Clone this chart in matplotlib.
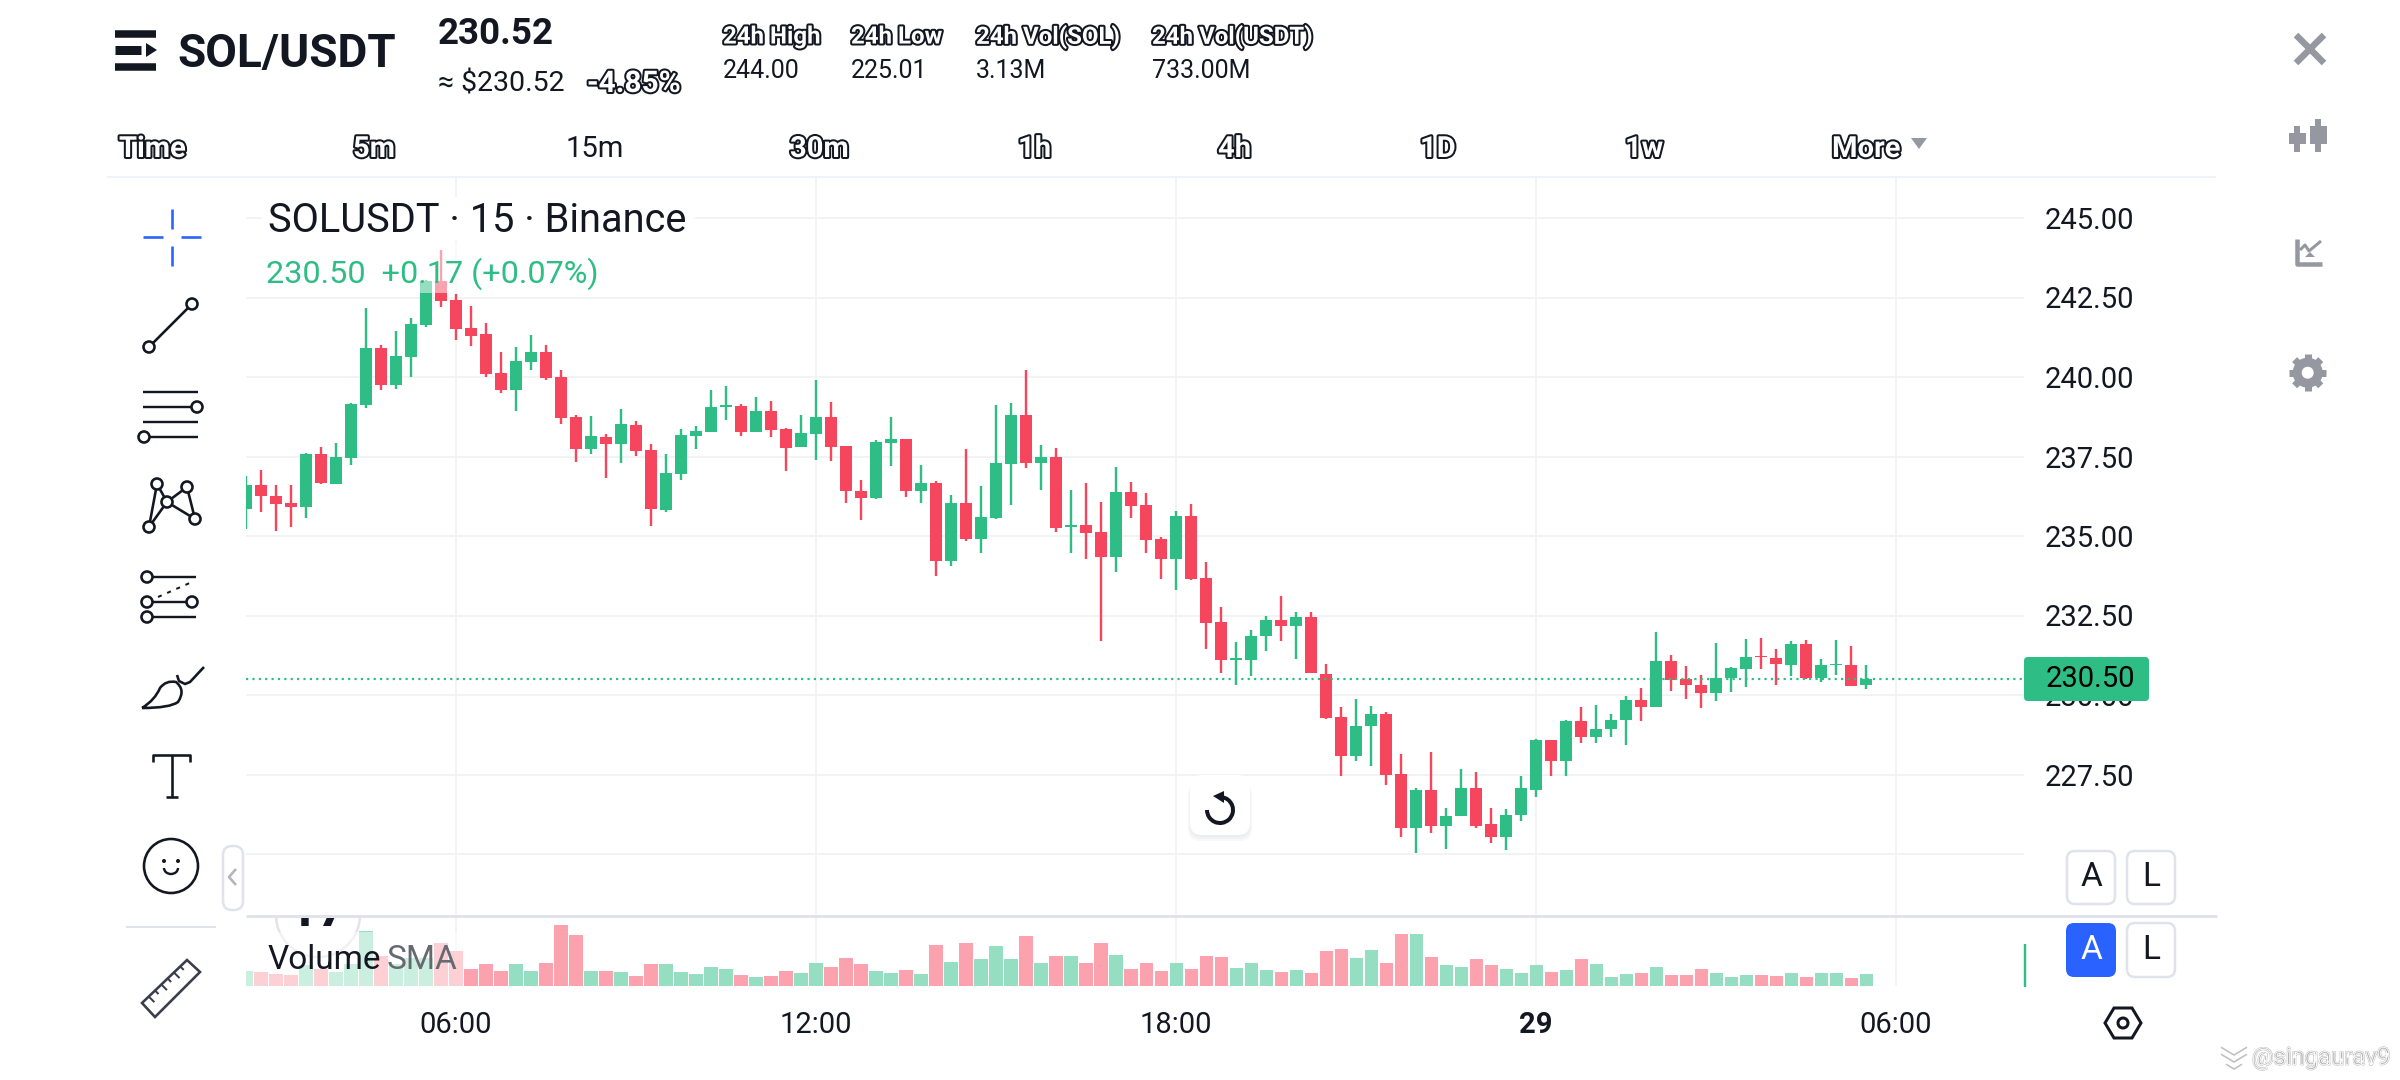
import numpy as np
import matplotlib
matplotlib.use("Agg")
import matplotlib.pyplot as plt
from matplotlib.patches import Rectangle, FancyBboxPatch, Circle, Polygon, Arc, PathPatch
from matplotlib.path import Path
import matplotlib.patheffects as pe

plt.rcParams['font.family'] = ['Roboto', 'DejaVu Sans']

# ---------------- data (15 minute candles, SOLUSDT) ----------------
opens = [235.86,236.60,236.25,236.03,235.92,237.58,236.64,237.46,239.13,240.91,239.75,240.63,241.64,243.01,242.42,241.54,241.35,240.12,239.60,240.48,
240.78,240.00,238.74,237.74,238.11,237.90,238.49,237.70,235.83,236.96,238.15,238.28,239.06,239.08,238.28,238.93,238.36,237.80,238.21,238.74,
237.83,236.41,236.20,237.93,238.05,236.42,236.66,234.22,236.03,234.91,235.57,237.27,238.80,237.30,237.48,235.29,235.34,235.12,234.35,236.38,
235.97,234.90,234.28,235.62,233.67,232.29,231.11,231.11,231.86,232.35,232.18,232.45,230.66,229.31,228.07,229.01,229.41,227.53,225.81,227.02,
225.87,226.19,227.09,225.93,225.53,226.22,227.02,228.59,227.94,229.19,228.67,228.92,229.20,229.85,229.61,231.07,230.51,230.32,230.05,230.52,
230.83,231.23,231.17,230.93,231.61,230.55,230.93,230.95,230.30]
closes = [236.60,236.27,236.01,235.92,237.58,236.67,237.48,239.15,240.91,239.75,240.66,241.66,243.01,242.40,241.51,241.30,240.10,239.60,240.50,240.78,
239.96,238.72,237.74,238.14,237.90,238.52,237.68,235.86,236.98,238.17,238.30,239.05,239.11,238.28,238.93,238.34,237.77,238.23,238.74,237.80,
236.42,236.20,237.95,238.05,236.42,236.66,234.22,236.03,234.91,235.59,237.29,238.80,237.30,237.48,235.26,235.34,235.10,234.35,236.38,235.95,
234.88,234.28,235.62,233.66,232.27,231.11,231.16,231.85,232.35,232.18,232.45,230.70,229.29,228.07,229.03,229.41,227.50,225.81,227.02,225.87,
226.21,227.09,225.87,225.53,226.24,227.06,228.59,227.94,229.19,228.67,228.94,229.22,229.85,229.61,231.07,230.46,230.30,230.05,230.54,230.85,
231.20,231.18,230.96,231.61,230.55,230.95,230.98,230.27,230.50]
highs = [236.88,237.07,236.60,236.60,237.60,237.79,237.92,239.17,242.17,241.00,241.44,241.85,243.05,244.00,242.60,242.23,241.69,240.78,240.94,241.32,
241.00,240.22,238.80,238.77,238.20,238.99,238.61,237.89,237.58,238.36,238.46,239.59,239.71,239.15,239.37,239.24,238.39,238.80,239.90,239.21,
237.83,236.76,238.01,238.74,238.05,237.23,236.72,236.29,237.73,236.57,239.11,239.18,240.21,237.86,237.76,236.44,236.66,236.06,237.17,236.69,
236.35,234.96,235.78,236.00,234.18,232.76,231.66,232.04,232.48,233.11,232.61,232.61,230.98,229.63,229.88,229.66,229.47,228.15,227.06,228.22,
226.46,227.68,227.59,226.46,226.43,227.46,228.62,228.59,229.22,229.63,229.69,229.41,229.97,230.22,231.98,231.26,230.92,230.63,231.64,230.88,
231.76,231.79,231.45,231.70,231.73,231.13,231.73,231.54,230.95]
lows = [235.23,235.76,235.16,235.29,235.57,236.64,236.64,237.23,239.03,239.60,239.63,240.00,241.58,242.21,241.17,240.98,240.00,239.50,238.94,240.23,
239.91,238.53,237.33,237.59,236.83,237.30,237.52,235.32,235.76,236.77,237.74,238.28,238.65,238.15,238.28,238.12,237.05,237.80,237.40,237.37,
236.04,235.51,236.17,237.21,236.23,236.04,233.75,234.06,234.85,234.47,235.54,235.98,237.14,236.45,235.13,234.47,234.28,231.71,233.87,235.57,
234.47,233.66,233.31,233.63,231.45,230.68,230.32,230.60,231.39,231.71,231.14,230.68,229.23,227.44,227.91,227.76,227.16,225.53,225.03,225.65,
225.15,226.19,225.81,225.34,225.12,226.03,226.78,227.44,227.44,228.48,228.48,228.67,228.42,229.17,229.61,230.14,229.86,229.58,229.80,230.08,
230.24,230.83,230.33,230.61,230.49,230.42,230.64,230.27,230.20]
volumes_k = [30,28,24,22,42,34,28,45,110,60,45,56,56,86,70,34,44,30,44,30,46,122,102,30,30,28,20,44,44,28,24,38,34,22,18,20,30,26,46,38,
56,44,30,26,32,24,82,48,86,54,80,54,100,46,60,60,46,86,62,34,46,30,46,34,60,58,36,46,32,28,32,26,70,74,56,72,46,104,104,58,
42,38,54,42,34,26,42,28,32,54,44,18,24,26,38,22,22,34,26,18,22,22,20,26,18,26,26,16,24]
price_ticks = [227.5,230.0,232.5,235.0,237.5,240.0,242.5,245.0]
price_grid = [225.0,227.5,230.0,232.5,235.0,237.5,240.0,242.5,245.0]
time_ticks = [14,38,62,86,110]
time_labels = ['06:00','12:00','18:00','29','06:00']
last_price = closes[-1]
tabs = ['Time','5m','15m','30m','1h','4h','1D','1w','More']
stats = [('24h High','244.00'),('24h Low','225.01'),('24h Vol(SOL)','3.13M'),('24h Vol(USDT)','733.00M')]

GREEN = '#2EBD85'; RED = '#F6465D'; INK = '#131722'; GRID = '#F2F3F5'; SEP = '#E0E3EB'; GRAY = '#9598A1'; BLUE = '#2962FF'
W, H = 2400, 1080
fig = plt.figure(figsize=(W/100, H/100), dpi=100, facecolor='white')
PT = 72/100  # points per pixel

def axes_px(x0, y0, x1, y1, **kw):
    return fig.add_axes([x0/W, 1-y1/H, (x1-x0)/W, (y1-y0)/H], **kw)

# ---------------- price pane ----------------
ax = axes_px(246, 178, 2024, 916)
x = np.arange(len(opens))
o, c, hi, lo = map(np.array, (opens, closes, highs, lows))
up = c >= o
cols = [GREEN if u else RED for u in up]
ax.set_xlim(0, 118.53)
ax.set_ylim(245-(916-218)/31.8, 245+(218-178)/31.8)
ax.vlines(x, lo, hi, colors=cols, linewidth=2.4*PT, zorder=3)
ax.bar(x, np.abs(c-o), bottom=np.minimum(o, c), width=0.8, color=cols, linewidth=0, zorder=4)
ax.axhline(last_price, color=GREEN, linewidth=2.2*PT, linestyle=(0, (1, 1.9)), zorder=5)
for p in price_grid:
    ax.axhline(p, color=GRID, linewidth=2*PT, zorder=1)
for t in time_ticks:
    ax.axvline(t, color=GRID, linewidth=2*PT, zorder=1)
ax.set_yticks(price_ticks, [f'{p:.2f}' for p in price_ticks])
ax.set_xticks([])
ax.yaxis.tick_right()
ax.tick_params(axis='y', length=0, pad=21*PT, labelsize=21, labelcolor=INK)
for s in ax.spines.values():
    s.set_visible(False)

# ---------------- volume pane ----------------
axv = axes_px(246, 916, 2024, 986)
vol_colors = ['#96DEC2' if u else '#FBA2AE' for u in up]
axv.bar(x, volumes_k, width=0.87, color=vol_colors, linewidth=0, zorder=3)
axv.set_xlim(0, 118.53)
axv.set_ylim(0, 140)
axv.set_yticks([])
axv.set_xticks(time_ticks, time_labels)
axv.tick_params(axis='x', length=0, pad=25*PT, labelsize=21, labelcolor=INK)
axv.get_xticklabels()[3].set_fontweight('bold')
for t in time_ticks:
    axv.axvline(t, color=GRID, linewidth=2*PT, zorder=1)
for s in axv.spines.values():
    s.set_visible(False)
axv.patch.set_alpha(0)

# ---------------- interface overlay, in pixels ----------------
ui = fig.add_axes([0, 0, 1, 1], facecolor='none')
ui.set_xlim(0, W); ui.set_ylim(H, 0); ui.axis('off')

def T(px, py, s, size, color=INK, ha='left', va='center', weight='normal', outline=False, z=10):
    t = ui.text(px, py, s, fontsize=size, color='white' if outline else color, ha=ha, va=va, fontweight=weight, zorder=z)
    if outline:
        t.set_path_effects([pe.Stroke(linewidth=2.9, foreground=color), pe.Normal()])
    return t

def L(xs, ys, lw=3, color=INK, z=10, **kw):
    ui.plot(xs, ys, color=color, linewidth=lw*PT, solid_capstyle=kw.pop('cap', 'butt'), zorder=z, **kw)

def ring(px, py, r=5.5, lw=2.6, color=INK):
    ui.add_patch(Circle((px, py), r, facecolor='white', edgecolor=color, linewidth=lw*PT, zorder=11))

def rbox(x0, y0, x1, y1, r, fc='white', ec='none', lw=0, z=9, alpha=None):
    ui.add_patch(FancyBboxPatch((x0+r, y0+r), x1-x0-2*r, y1-y0-2*r, boxstyle=f'round,pad={r},rounding_size={r}',
                                facecolor=fc, edgecolor=ec, linewidth=lw*PT, zorder=z, alpha=alpha))

# top rule and pane separator
L([107, 2216], [177, 177], lw=2, color='#F0F3FA')
L([246, 2217], [916, 916], lw=3, color=SEP, z=3)

# header
for yy in (33.5, 66.5):
    L([115, 156], [yy, yy], lw=7.5)
L([115, 141], [50, 50], lw=9)
ui.add_patch(Polygon([[146, 43], [157, 50], [146, 57]], closed=True, facecolor=INK, edgecolor='none', zorder=10))
T(177, 54, 'SOL/USDT', 33, weight='bold')
T(438, 34, '230.52', 26.5, weight='bold')
T(438, 84, '≈ $230.52', 20.5)
T(587, 84, '-4.85%', 21.5, weight='bold', outline=True)
stat_x = [723, 851, 976, 1152]
for sx, (lab, val) in zip(stat_x, stats):
    T(sx, 37, lab, 17.3, weight='bold', outline=True)
    T(sx, 71.5, val, 18)

# interval tabs
tab_x = [119, 353, 566, 790, 1018, 1218, 1420, 1625, 1832]
for tx, tab in zip(tab_x, tabs):
    T(tx, 149, tab, 21, weight='bold' if tab != '15m' else 'normal', outline=tab != '15m')
ui.add_patch(Polygon([[1911, 138], [1927, 138], [1919, 149]], closed=True, facecolor=GRAY, edgecolor='none', zorder=10))

# legends in the price pane
rbox(262, 197, 695, 240, 0, z=5)
T(268, 220, 'SOLUSDT · 15 · Binance', 28.6, z=10)
ui.add_patch(Rectangle((262, 242), 340, 51, facecolor='white', alpha=0.5, edgecolor='none', zorder=5))
T(266, 273.5, '230.50  +0.17 (+0.07%)', 23.3, color=GREEN, z=10)

# reset button
for i, a in enumerate((0.03, 0.03, 0.03)):
    rbox(1190-i, 779+i*2, 1250+i, 837+i*2, 12, fc='#333B55', z=6, alpha=a)
rbox(1190, 775, 1250, 835, 12, z=7)
ui.add_patch(Arc((1220, 810), 26, 26, angle=0, theta1=-85, theta2=180, color=INK, linewidth=4*PT, zorder=10))
ui.add_patch(Polygon([[1213, 796], [1224, 791], [1224, 803]], closed=True, facecolor=INK, edgecolor='none', zorder=10))

# volume legend, logo behind it
logo_clip = Rectangle((246, 918), 220, 70, transform=ui.transData)
circ = Circle((318, 915), 42, facecolor='none', edgecolor='#E3E4EA', linewidth=2.5*PT, zorder=1)
ui.add_patch(circ); circ.set_clip_path(logo_clip)
t17 = T(318, 911, '17', 38, ha='center', weight='bold', z=1)
t17.set_clip_on(True); t17.set_clip_path(logo_clip)
ui.add_patch(Rectangle((246, 932), 218, 54, facecolor='white', alpha=0.5, edgecolor='none', zorder=2))
T(268, 960, 'Volume', 24, z=10)
T(387, 960, 'SMA', 24, color='#666A70', z=10)

# last price tag
rbox(2024, 657, 2149, 701, 4, fc=GREEN, z=9)
T(2090, 679, f'{last_price:.2f}', 21, color='black', ha='center')
L([2025, 2025], [944, 987], lw=2.4, color=GREEN)

# A / L buttons
for y0, y1, active in ((851, 904, False), (923, 977, True)):
    if active:
        rbox(2066, y0, 2116, y1, 8, fc=BLUE)
    else:
        rbox(2067, y0, 2115, y1, 8, ec=SEP, lw=2.5)
    T(2091, (y0+y1)/2, 'A', 24, color='white' if active else INK, ha='center')
    rbox(2127, y0, 2175, y1, 8, ec=SEP, lw=2.5)
    T(2151, (y0+y1)/2, 'L', 24, ha='center')

# settings hexagon
hx = [2105, 2114, 2132, 2141, 2132, 2114]
hy = [1023, 1008, 1008, 1023, 1038, 1038]
ui.add_patch(Polygon(np.c_[hx, hy], closed=True, facecolor='white', edgecolor=INK, linewidth=3*PT, zorder=10))
ui.add_patch(Circle((2123, 1023), 5, facecolor='white', edgecolor=INK, linewidth=3*PT, zorder=11))

# watermark
T(2252, 1058, '@singaurav9', 17.2, color='#B5B5B5').set_path_effects(
    [pe.Stroke(linewidth=1.3, foreground='#BDBDBD'), pe.Stroke(linewidth=0.6, foreground='white')])
for dy, w in ((0, 13), (7, 13), (14, 8)):
    L([2234-w, 2234, 2234+w], [1050+dy-w*0.6+5, 1050+dy+5, 1050+dy-w*0.6+5], lw=1.6, color='#C0C0C0')

# right icons
L([2296, 2324], [35, 63], lw=6.5, color=GRAY)
L([2324, 2296], [35, 63], lw=6.5, color=GRAY)
L([2297, 2297], [126, 152], lw=6, color=GRAY)
L([2318, 2318], [119, 152], lw=6, color=GRAY)
ui.add_patch(Rectangle((2289, 133), 17, 11, facecolor=GRAY, edgecolor='none', zorder=10))
ui.add_patch(Rectangle((2310, 126), 17, 18, facecolor=GRAY, edgecolor='none', zorder=10))
L([2297, 2297, 2322], [239, 264, 264], lw=4.5, color=GRAY)
L([2300, 2305, 2309, 2321], [250, 245, 251, 241], lw=3, color=GRAY)
ui.add_patch(Polygon([[2305, 257], [2315, 257], [2310, 252]], closed=True, facecolor=GRAY, edgecolor='none', zorder=10))
gx, gy = 2307.7, 372.7
for a in np.arange(8)*np.pi/4:
    L([gx, gx+18.5*np.cos(a)], [gy, gy+18.5*np.sin(a)], lw=7, color=GRAY)
ui.add_patch(Circle((gx, gy), 15, facecolor=GRAY, edgecolor='none', zorder=11))
ui.add_patch(Circle((gx, gy), 6, facecolor='white', edgecolor='none', zorder=12))

# left drawing toolbar
L([143, 163], [237, 237], lw=2.6, color=BLUE); L([181, 201], [237, 237], lw=2.6, color=BLUE)
L([172, 172], [209, 229], lw=2.6, color=BLUE); L([172, 172], [246, 266], lw=2.6, color=BLUE)
L([149, 192], [347, 304], lw=2.6); ring(149, 347); ring(192, 304)
for yy in (392, 407, 422, 437):
    L([143, 198], [yy, yy], lw=2.4)
ring(197, 407); ring(144, 437)
nodes = {'a': (157, 484), 'b': (187, 487), 'c': (167, 502), 'd': (149, 527), 'e': (195, 519)}
for p, q in ('da', 'ac', 'cb', 'be', 'ce', 'dc'):
    L([nodes[p][0], nodes[q][0]], [nodes[p][1], nodes[q][1]], lw=2.6)
for n in nodes.values():
    ring(*n)
for yy in (577, 602, 617):
    L([147, 196], [yy, yy], lw=2.4)
L([158, 192], [597, 582], lw=2, linestyle=(0, (2, 3)))
ring(147, 577); ring(147, 602); ring(192, 602); ring(147, 617)
leaf = Path([(142, 708), (155, 700), (160, 688), (166, 680), (176, 682), (186, 690), (178, 702), (170, 708), (142, 708)],
            [Path.MOVETO, Path.CURVE3, Path.CURVE3, Path.CURVE3, Path.CURVE3, Path.CURVE3, Path.CURVE3, Path.CURVE3, Path.CURVE3])
ui.add_patch(PathPatch(leaf, facecolor='white', edgecolor=INK, linewidth=2.6*PT, zorder=10))
L([177, 179, 185, 190, 204], [675, 681, 684, 682, 667], lw=2.6)
L([153, 153, 190, 190], [762, 755, 755, 762], lw=2.6)
L([172, 172], [755, 797], lw=2.6); L([166, 178], [797, 797], lw=2.6)
ui.add_patch(Circle((171, 866), 27, facecolor='white', edgecolor=INK, linewidth=2.6*PT, zorder=10))
ui.add_patch(Circle((164, 861), 2, facecolor=INK, edgecolor='none', zorder=11))
ui.add_patch(Circle((178, 861), 2, facecolor=INK, edgecolor='none', zorder=11))
ui.add_patch(Arc((171, 868), 14, 12, theta1=0, theta2=180, color=INK, linewidth=2.4*PT, zorder=11))
L([126, 216], [927, 927], lw=2, color=SEP)
ui.add_patch(Polygon([[142, 1003], [187, 960], [200, 972], [155, 1017]], closed=True, facecolor='white', edgecolor='#3A3E4A', linewidth=2.6*PT, zorder=10))
for i, k in enumerate(np.linspace(0.15, 0.85, 6)):
    sx, sy = 142+45*k, 1003-43*k
    L([sx, sx+(5 if i % 2 else 8)*0.7], [sy, sy+(5 if i % 2 else 8)*0.7], lw=2, color='#3A3E4A', z=11)
rbox(223, 846, 243, 910, 9, ec=SEP, lw=2.5)
L([236, 229, 236], [869, 877, 885], lw=2.6, color='#B2B5BE', z=11)

fig.savefig('out.png', dpi=100)
